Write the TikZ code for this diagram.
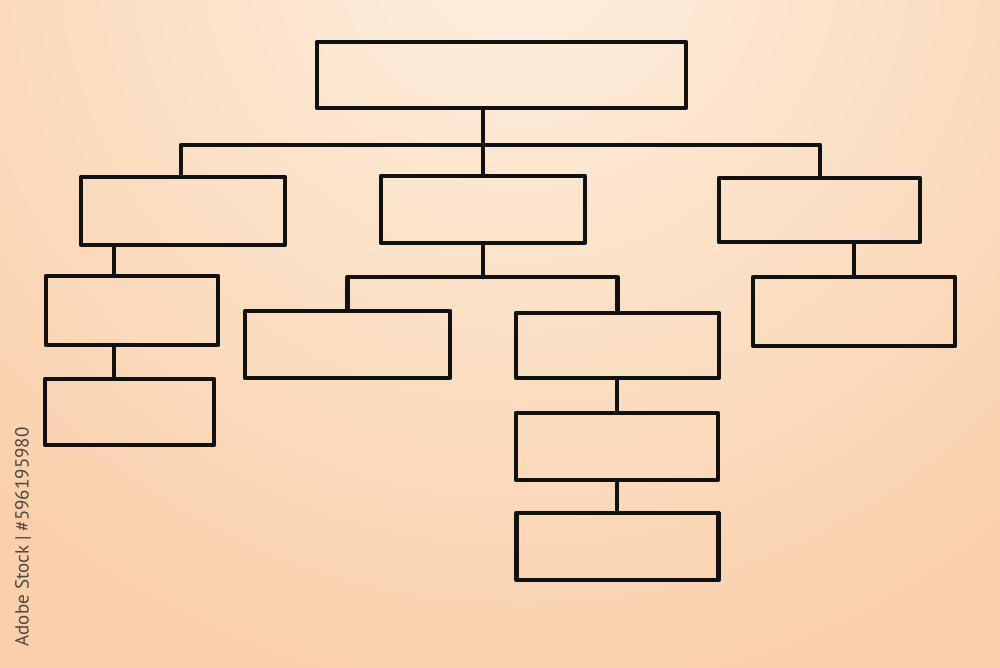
\documentclass[tikz,border=0pt]{standalone}
\usepackage{fontspec}
\newfontfamily\credfont{PT Sans}
\definecolor{bglight}{HTML}{FDF0DF}
\definecolor{bgdark}{HTML}{FAD0AC}
\definecolor{ink}{HTML}{111111}
\definecolor{credit}{HTML}{4E443C}
\tikzset{
  box/.style={draw=ink, line width=4.5pt, rectangle, inner sep=0pt, line join=round},
  link/.style={draw=ink, line width=4.5pt, line cap=round, line join=round}
}
\begin{document}
\begin{tikzpicture}[x=1pt,y=-1pt]
\useasboundingbox (0,0) rectangle (1000,667);
\begin{scope}
\clip (-2,-2) rectangle (1002,669);
\fill[bgdark] (-2,-2) rectangle (1002,669);
\shade[inner color=bglight, outer color=bgdark] (520,-60) circle (760);
\end{scope}
% boxes
\node[box, minimum width=369pt, minimum height=66pt] (top) at (501.5,75) {};
\node[box, minimum width=204pt, minimum height=68pt] (La) at (183,211) {};
\node[box, minimum width=204pt, minimum height=67pt] (Mb) at (483,209.5) {};
\node[box, minimum width=201pt, minimum height=64pt] (Rc) at (819.5,210) {};
\node[box, minimum width=172pt, minimum height=69pt] (L3) at (132,310.5) {};
\node[box, minimum width=169pt, minimum height=66pt] (L4) at (129.5,412) {};
\node[box, minimum width=205pt, minimum height=67pt] (M1) at (347.5,344.5) {};
\node[box, minimum width=203pt, minimum height=65pt] (M2) at (617.5,345.5) {};
\node[box, minimum width=202pt, minimum height=67pt] (M3) at (617,446.5) {};
\node[box, minimum width=202pt, minimum height=67pt] (M4) at (617.5,546.5) {};
\node[box, minimum width=202pt, minimum height=69pt] (R1) at (854,311.5) {};
% helper coordinates
\coordinate (bl) at (181,145);
\coordinate (br) at (820,145);
\coordinate (lx) at (114,0);
\coordinate (mb) at (0,277);
% connectors
\draw[link] (top.south -| Mb.north) -- (Mb.north);
\draw[link] (La.north -| bl) -- (bl) -- (br) -- (br |- Rc.north);
\draw[link] (La.south -| lx) -- (L3.north -| lx);
\draw[link] (L3.south -| lx) -- (L4.north -| lx);
\draw[link] (Mb.south) -- (Mb.south |- mb);
\draw[link] (M1.north) -- (M1.north |- mb) -- (M2.north |- mb) -- (M2.north);
\draw[link] (M2.south -| M3.north) -- (M3.north);
\draw[link] (M3.south) -- (M4.north -| M3.south);
\draw[link] (Rc.south -| R1.north) -- (R1.north);
% credit line
\node[rotate=90, text=credit, font=\credfont\fontsize{19}{19}\selectfont, inner sep=0pt] (cr) at (23,537) {Adobe Stock | \#596195980};
\end{tikzpicture}
\end{document}
